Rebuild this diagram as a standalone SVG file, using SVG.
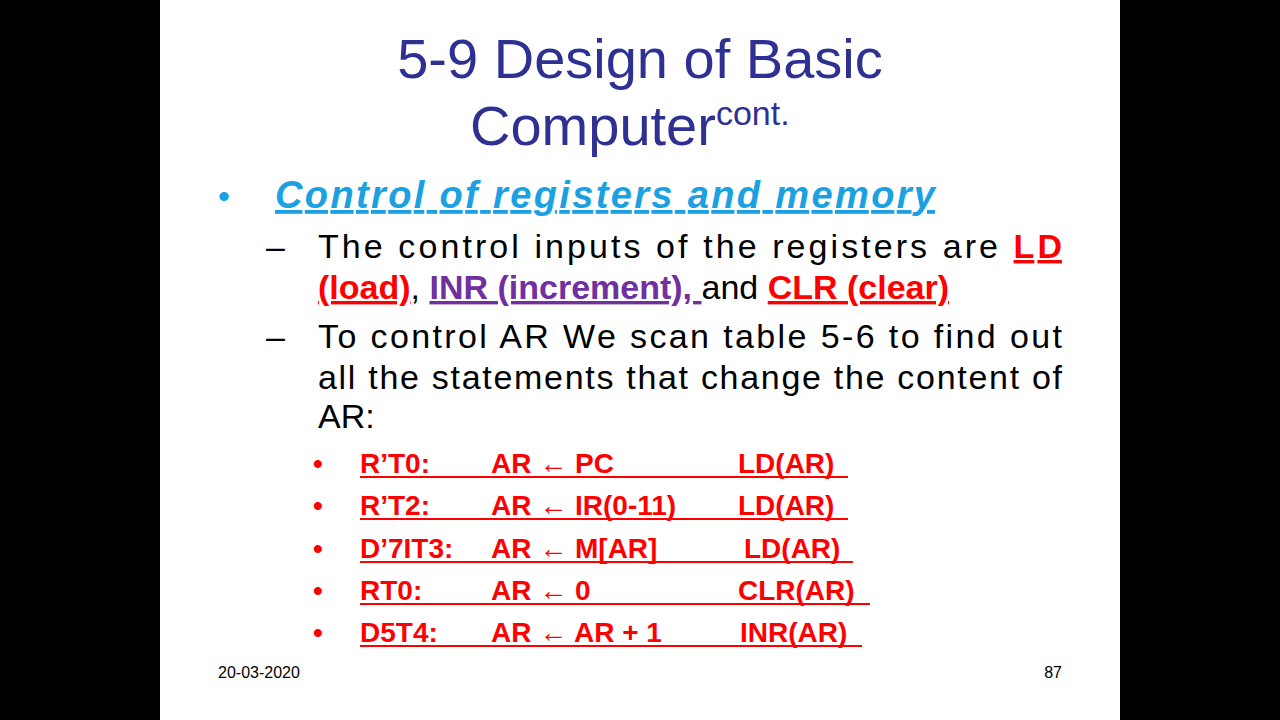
<svg xmlns="http://www.w3.org/2000/svg" width="1280" height="720" viewBox="0 0 1280 720">
<style>
text{font-family:"Liberation Sans",Arial,sans-serif}
.t{fill:#2E3192;font-size:56px}
.b{fill:#000;font-size:34px}
.r{fill:#FF0000;font-size:28px;font-weight:bold}
.ul{stroke:#FF0000;stroke-width:2}
</style>
<rect width="1280" height="720" fill="#000"/>
<rect x="160" width="960" height="720" fill="#fff"/>
<g id="title">
<text class="t" x="640" y="78" text-anchor="middle">5-9 Design of Basic</text>
<text class="t" x="470" y="145">Computer<tspan font-size="34" dy="-20">cont.</tspan></text>
</g>
<g id="heading">
<text x="218" y="208" fill="#1BA1E2" font-size="34">•</text>
<text x="275" y="208" fill="#1BA1E2" font-size="38" font-weight="bold" font-style="italic" text-decoration="underline" textLength="660">Control of registers and memory</text>
</g>
<g id="para1">
<text class="b" x="266" y="258">–</text>
<text class="b" x="318" y="258" textLength="744">The control inputs of the registers are <tspan fill="#FF0000" font-weight="bold" text-decoration="underline">LD</tspan></text>
<text class="b" x="318" y="299"><tspan fill="#FF0000" font-weight="bold" text-decoration="underline">(load)</tspan>, <tspan fill="#7030A0" font-weight="bold" text-decoration="underline">INR (increment), </tspan>and <tspan fill="#FF0000" font-weight="bold" text-decoration="underline">CLR (clear)</tspan></text>
</g>
<g id="para2">
<text class="b" x="266" y="348">–</text>
<text class="b" x="318" y="348" textLength="744">To control AR We scan table 5-6 to find out</text>
<text class="b" x="318" y="389" textLength="744">all the statements that change the content of</text>
<text class="b" x="318" y="428">AR:</text>
</g>
<g id="list">
<g><text class="r" x="313" y="473">•</text><text class="r" x="360" y="473">R’T0:</text><text class="r" x="491" y="473">AR ← PC</text><text class="r" x="738" y="473">LD(AR)</text><line class="ul" x1="360" y1="477" x2="848" y2="477"/></g>
<g><text class="r" x="313" y="515">•</text><text class="r" x="360" y="515">R’T2:</text><text class="r" x="491" y="515">AR ← IR(0-11)</text><text class="r" x="738" y="515">LD(AR)</text><line class="ul" x1="360" y1="519" x2="848" y2="519"/></g>
<g><text class="r" x="313" y="558">•</text><text class="r" x="360" y="558">D’7IT3:</text><text class="r" x="491" y="558">AR ← M[AR]</text><text class="r" x="744" y="558">LD(AR)</text><line class="ul" x1="360" y1="562" x2="853" y2="562"/></g>
<g><text class="r" x="313" y="600">•</text><text class="r" x="360" y="600">RT0:</text><text class="r" x="491" y="600">AR ← 0</text><text class="r" x="738" y="600">CLR(AR)</text><line class="ul" x1="360" y1="604" x2="870" y2="604"/></g>
<g><text class="r" x="313" y="642">•</text><text class="r" x="360" y="642">D5T4:</text><text class="r" x="491" y="642">AR ← AR + 1</text><text class="r" x="740" y="642">INR(AR)</text><line class="ul" x1="360" y1="646" x2="862" y2="646"/></g>
</g>
<g id="footer">
<text x="218" y="678" font-size="16">20-03-2020</text>
<text x="1062" y="678" font-size="16" text-anchor="end">87</text>
</g>
</svg>
